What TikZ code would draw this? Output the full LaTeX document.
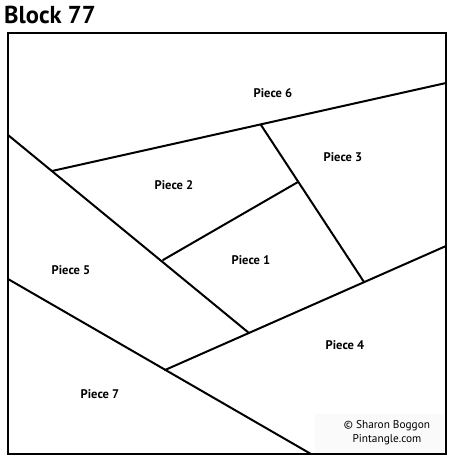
\documentclass[tikz,border=0pt]{standalone}
\usepackage{fontspec}
\setmainfont{PT Sans}
\begin{document}
\begin{tikzpicture}[x=1pt,y=-1pt,
  seam/.style={line width=2pt,line cap=round},
  frame/.style={line width=2.6pt},
  lbl/.style={font=\bfseries\fontsize{12.5}{14}\selectfont,inner sep=0pt},
  wmtext/.style={font=\fontsize{11.3}{14}\selectfont,align=center,inner sep=0pt}]
\useasboundingbox (0,0) rectangle (450,459);
% corners
\coordinate (tl) at (8,33);
\coordinate (br) at (446,454);
% seam end points
\coordinate (d1) at (8,135);
\coordinate (d2) at (249,333);
\coordinate (a1) at (52,171);
\coordinate (a2) at (446,83);
\coordinate (t1) at (261,125);
\coordinate (t2) at (364,282);
\coordinate (m1) at (163,260);
\coordinate (m2) at (298,182);
\coordinate (f1) at (165,370);
\coordinate (f2) at (446,246);
\coordinate (s1) at (8,279);
\coordinate (s2) at (311,454);
\draw[seam] (d1) -- (d2);
\draw[seam] (a1) -- (a2);
\draw[seam] (t1) -- (t2);
\draw[seam] (m1) -- (m2);
\draw[seam] (f1) -- (f2);
\draw[seam] (s1) -- (s2);
% watermark box
\fill[white!98!black] (315,414) rectangle (444,452.5);
\draw[frame] (tl) rectangle (br);
\node[anchor=west,inner sep=0pt,font=\bfseries\fontsize{24.5}{27}\selectfont] (title) at (4,15) {Block 77};
\node[lbl] (p6) at (273,93) {Piece 6};
\node[lbl] (p3) at (343,157) {Piece 3};
\node[lbl] (p2) at (174,185) {Piece 2};
\node[lbl] (p1) at (251,260) {Piece 1};
\node[lbl] (p5) at (71,270) {Piece 5};
\node[lbl] (p4) at (345,345) {Piece 4};
\node[lbl] (p7) at (100,394) {Piece 7};
\node[wmtext] (wm) at (387,433) {\textcopyright{} Sharon Boggon\\Pintangle.com};
\end{tikzpicture}
\end{document}
